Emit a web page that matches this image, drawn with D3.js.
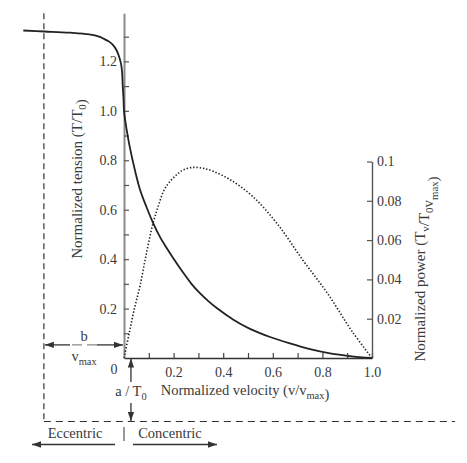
<!DOCTYPE html>
<html>
<head>
<meta charset="utf-8">
<script src="https://cdn.jsdelivr.net/npm/d3@7"></script>
<style>
body { margin: 0; background: #fff; }
</style>
</head>
<body>
<div id="vis"></div>
<script>
// normalized tension T/T0 against normalized velocity v/vmax (eccentric side is v < 0)
const tensionV = [-0.406, -0.32, -0.22, -0.14, -0.10, -0.083, -0.06, -0.043, -0.03, -0.019, -0.012, -0.008, -0.005, -0.002, 0,
    0.011, 0.024, 0.044, 0.065, 0.091, 0.118, 0.145, 0.172, 0.2, 0.239, 0.272, 0.306, 0.34, 0.374, 0.441, 0.508, 0.589, 0.669, 0.75, 0.831, 0.911, 1.0];
const tensionT = [1.325, 1.321, 1.316, 1.309, 1.300, 1.292, 1.280, 1.265, 1.245, 1.217, 1.19, 1.16, 1.10, 1.05, 1.0,
    0.922, 0.85, 0.76, 0.68, 0.61, 0.545, 0.49, 0.445, 0.402, 0.345, 0.300, 0.262, 0.230, 0.202, 0.155, 0.118, 0.085, 0.059, 0.036, 0.019, 0.008, 0];

// normalized power (dotted)
const powerV = [0, 0.02, 0.04, 0.065, 0.09, 0.118, 0.14, 0.16, 0.18, 0.21, 0.24, 0.28, 0.32, 0.36, 0.43, 0.52, 0.62, 0.72, 0.82, 0.92, 1.0];
const powerP = [0, 0.012, 0.024, 0.037, 0.053, 0.069, 0.078, 0.085, 0.089, 0.093, 0.0958, 0.097, 0.0965, 0.095, 0.0906, 0.0821, 0.068, 0.050, 0.033, 0.0135, 0];

const velocityTicks = [0.1, 0.2, 0.3, 0.4, 0.5, 0.6, 0.7, 0.8, 0.9, 1.0];
const velocityLabels = [0.2, 0.4, 0.6, 0.8, 1.0];
const tensionTicks = [0.1, 0.2, 0.3, 0.4, 0.5, 0.6, 0.7, 0.8, 0.9, 1.0, 1.1, 1.2, 1.3];
const tensionLabels = [0.2, 0.4, 0.6, 0.8, 1.0, 1.2];
const powerTicks = [0.02, 0.04, 0.06, 0.08, 0.1];
const powerLabels = ['0.02', '0.04', '0.06', '0.08', '0.1'];

// Hill asymptotes
const bOverVmax = 0.323;
const aOverT0 = 0.257;

const width = 467;
const height = 463;
const font = "'Liberation Serif', 'Times New Roman', serif";
const ink = '#3a3a3a';

const svg = d3.select('#vis')
    .append('svg')
    .attr('width', width)
    .attr('height', height);

const defs = svg.append('defs');
defs.append('marker')
    .attr('id', 'head')
    .attr('viewBox', '0 0 10 10')
    .attr('refX', 10)
    .attr('refY', 5)
    .attr('markerWidth', 9)
    .attr('markerHeight', 9)
    .attr('markerUnits', 'userSpaceOnUse')
    .attr('orient', 'auto')
    .append('path')
    .attr('d', 'M0,1.5 L10,5 L0,8.5 Z')
    .attr('fill', '#333');

const x = d3.scaleLinear().domain([0, 1]).range([124, 372]);
const yT = d3.scaleLinear().domain([0, 1.395]).range([358, 13.2]);
const yP = d3.scaleLinear().domain([0, 0.1]).range([358, 161.5]);

// text with subscripts: parts = [[text, isSub], ...]
function richText(g, parts, size) {
    parts.forEach(function (p) {
        const sub = p[1];
        g.append('tspan')
            .attr('font-size', sub ? size * 0.72 : size)
            .attr('dy', sub ? size * 0.28 : 0)
            .text(p[0]);
        if (sub) {
            g.append('tspan').attr('font-size', size).attr('dy', -size * 0.28).text('');
        }
    });
    return g;
}

function label(xp, yp, anchor, size) {
    return svg.append('text')
        .attr('x', xp)
        .attr('y', yp)
        .attr('fill', ink)
        .style('font-family', font)
        .attr('font-size', size)
        .attr('text-anchor', anchor);
}

// dashed asymptote lines
svg.append('line')
    .attr('x1', x(-bOverVmax)).attr('x2', x(-bOverVmax))
    .attr('y1', yT(1.395)).attr('y2', yT(-aOverT0))
    .attr('stroke', '#333').attr('stroke-width', 1.2)
    .attr('stroke-dasharray', '6,4');

svg.append('line')
    .attr('x1', x(-bOverVmax)).attr('x2', 455)
    .attr('y1', yT(-aOverT0)).attr('y2', yT(-aOverT0))
    .attr('stroke', '#333').attr('stroke-width', 1.2)
    .attr('stroke-dasharray', '7,5');

// axes
const bottomAxis = svg.append('g')
    .attr('transform', 'translate(0,' + yT(0) + ')')
    .call(d3.axisBottom(x)
        .tickValues(velocityTicks)
        .tickSizeInner(-5)
        .tickSizeOuter(0)
        .tickPadding(9)
        .tickFormat(d => velocityLabels.includes(d) ? d.toFixed(1) : ''));

const leftAxis = svg.append('g')
    .attr('transform', 'translate(' + x(0) + ',0)')
    .call(d3.axisLeft(yT)
        .tickValues(tensionTicks)
        .tickSizeInner(-5)
        .tickSizeOuter(0)
        .tickPadding(7)
        .tickFormat(d => tensionLabels.includes(d) ? d.toFixed(1) : ''));

const rightAxis = svg.append('g')
    .attr('transform', 'translate(' + x(1) + ',0)')
    .call(d3.axisRight(yP)
        .tickValues(powerTicks)
        .tickSizeInner(-5)
        .tickSizeOuter(0)
        .tickPadding(5)
        .tickFormat((d, i) => powerLabels[i]));

[bottomAxis, leftAxis, rightAxis].forEach(function (g) {
    g.attr('font-family', null);
    g.selectAll('text')
        .attr('fill', ink)
        .style('font-family', font)
        .attr('font-size', 14);
});
leftAxis.select('.domain').attr('stroke', '#8a8a8a').attr('stroke-width', 2);
leftAxis.selectAll('.tick line').attr('stroke', '#555').attr('stroke-width', 1.2);
bottomAxis.select('.domain').attr('stroke', '#333').attr('stroke-width', 1.6);
bottomAxis.selectAll('.tick line').attr('stroke', '#444').attr('stroke-width', 1.2);
rightAxis.select('.domain').attr('stroke', '#555').attr('stroke-width', 1.4);
rightAxis.selectAll('.tick line').attr('stroke', '#555').attr('stroke-width', 1.2);

label(x(0) - 10, 374, 'middle', 14).text('0');

// curves
const tensionLine = d3.line()
    .x((d, i) => x(tensionV[i]))
    .y(d => yT(d))
    .curve(d3.curveCatmullRom.alpha(0.5));

svg.append('path')
    .attr('d', tensionLine(tensionT))
    .attr('fill', 'none')
    .attr('stroke', '#222')
    .attr('stroke-width', 1.8);

const powerLine = d3.line()
    .x((d, i) => x(powerV[i]))
    .y(d => yP(d))
    .curve(d3.curveCatmullRom.alpha(0.5));

svg.append('path')
    .attr('d', powerLine(powerP))
    .attr('fill', 'none')
    .attr('stroke', '#222')
    .attr('stroke-width', 1.6)
    .attr('stroke-dasharray', '1.4,1.9');

// axis titles
richText(label(0, 0, 'middle', 15)
    .attr('transform', 'translate(82,179) rotate(-90)'),
    [['Normalized tension (T/T', false], ['0', true], [')', false]], 15);

richText(label(0, 0, 'middle', 15)
    .attr('transform', 'translate(425,269) rotate(-90)'),
    [['Normalized power (T', false], ['v', true], ['/T', false], ['0', true], ['v', false], ['max', true], [')', false]], 15);

richText(label(245, 395, 'middle', 14.5),
    [['Normalized velocity (v/v', false], ['max', true], [')', false]], 14.5);

// b / vmax marker
const bY = yT(0.053);
svg.append('line')
    .attr('x1', 70).attr('x2', x(-bOverVmax) + 1)
    .attr('y1', bY).attr('y2', bY)
    .attr('stroke', '#333').attr('stroke-width', 1.3)
    .attr('marker-end', 'url(#head)');
svg.append('line')
    .attr('x1', 97).attr('x2', x(0) - 1)
    .attr('y1', bY).attr('y2', bY)
    .attr('stroke', '#333').attr('stroke-width', 1.3)
    .attr('marker-end', 'url(#head)');
svg.append('line')
    .attr('x1', 72).attr('x2', 97)
    .attr('y1', bY).attr('y2', bY)
    .attr('stroke', '#888').attr('stroke-width', 1.2)
    .attr('stroke-dasharray', '10,5');
label(84, bY - 4, 'middle', 14.5).text('b');
richText(label(84, bY + 16, 'middle', 14.5), [['v', false], ['max', true]], 14.5);

// a / T0 marker
const aX = x(0.028);
svg.append('line')
    .attr('x1', aX).attr('x2', aX)
    .attr('y1', 382).attr('y2', yT(0) + 0.5)
    .attr('stroke', '#333').attr('stroke-width', 1.3)
    .attr('marker-end', 'url(#head)');
svg.append('line')
    .attr('x1', aX).attr('x2', aX)
    .attr('y1', 403).attr('y2', yT(-aOverT0) - 0.5)
    .attr('stroke', '#333').attr('stroke-width', 1.3)
    .attr('marker-end', 'url(#head)');
richText(label(aX, 396, 'middle', 14.5), [['a / T', false], ['0', true]], 14.5);

// eccentric / concentric
svg.append('line')
    .attr('x1', x(0)).attr('x2', x(0))
    .attr('y1', 427).attr('y2', 441)
    .attr('stroke', '#777').attr('stroke-width', 1.5);
label(75, 438, 'middle', 14.5).text('Eccentric');
label(170, 438, 'middle', 14.5).text('Concentric');
svg.append('line')
    .attr('x1', 115).attr('x2', 32)
    .attr('y1', 444.5).attr('y2', 444.5)
    .attr('stroke', '#333').attr('stroke-width', 1.3)
    .attr('marker-end', 'url(#head)');
svg.append('line')
    .attr('x1', 133).attr('x2', 217)
    .attr('y1', 444.5).attr('y2', 444.5)
    .attr('stroke', '#333').attr('stroke-width', 1.3)
    .attr('marker-end', 'url(#head)');
</script>
</body>
</html>
